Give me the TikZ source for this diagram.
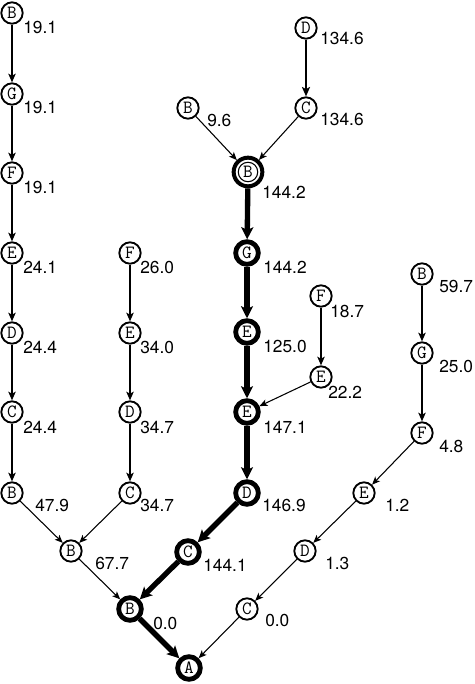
\documentclass[tikz,border=0pt]{standalone}
\usepackage{fontspec}
\setsansfont{TeX Gyre Heros}
\usepackage{tikz}
\usetikzlibrary{arrows.meta}

\begin{document}
\begin{tikzpicture}[x=0.75pt,y=0.75pt,yscale=-1,xscale=1,
  st/.style={circle,draw,line width=1.4pt,minimum size=16pt,inner sep=0pt,font=\ttfamily\fontsize{14}{14}\selectfont},
  stbold/.style={st,line width=3.6pt,minimum size=17pt},
  stroot/.style={st,line width=3pt,minimum size=21.5pt},
  val/.style={anchor=west,inner sep=0pt,font=\sffamily\fontsize{13}{13}\selectfont},
  thin/.style={line width=0.8pt,-{Stealth[length=6pt,width=5pt,inset=1.5pt]}},
  mid/.style={line width=1.3pt,-{Stealth[length=6.5pt,width=5.5pt,inset=1.5pt]}},
  heavy/.style={line width=2pt,-{Stealth[length=7pt,width=6pt,inset=1.5pt]}},
  path/.style={line width=4pt,-{Stealth[length=9pt,width=9pt,inset=2pt]}}]
\useasboundingbox (0,0) rectangle (474,684);

%States, left column
\node[st] (b1) at (12,13) {B};
\node[st] (g1) at (12,94) {G};
\node[st] (f1) at (12,173) {F};
\node[st] (e1) at (12,253) {E};
\node[st] (d1) at (12,333) {D};
\node[st] (c1) at (12,412) {C};
\node[st] (b2) at (12,493) {B};
%States, second column
\node[st] (f2) at (130,253) {F};
\node[st] (e2) at (130,333) {E};
\node[st] (d2) at (130,412) {D};
\node[st] (c2) at (130,493) {C};
\node[st] (b3) at (71,551) {B};
\node[stbold] (b4) at (130,609) {B};
\node[stbold] (a) at (189,668) {A};
%States, best path
\node[stroot] (bm) at (248,172) {B};
\draw[line width=0.8pt] (bm) circle [radius=7.3pt];
\node[stbold] (gm) at (247,253) {G};
\node[stbold] (em1) at (247,332) {E};
\node[stbold] (em2) at (247,412) {E};
\node[stbold] (dm) at (247,493) {D};
\node[stbold] (cm) at (188,552) {C};
%States, top
\node[st] (bt) at (188,108) {B};
\node[st] (ct) at (306,108) {C};
\node[st] (dt) at (306,28) {D};
\node[st] (fs) at (321,296) {F};
\node[st] (es) at (321,377) {E};
%States, right branch
\node[st] (br) at (422,274) {B};
\node[st] (gr) at (422,353) {G};
\node[st] (fr) at (422,433) {F};
\node[st] (er) at (364,493) {E};
\node[st] (dr) at (305,551) {D};
\node[st] (cr) at (247,609) {C};

%Straight Lines
\draw[mid] (b1) -- (g1);
\draw[mid] (g1) -- (f1);
\draw[mid] (f1) -- (e1);
\draw[mid] (e1) -- (d1);
\draw[mid] (d1) -- (c1);
\draw[mid] (c1) -- (b2);
\draw[mid] (f2) -- (e2);
\draw[mid] (e2) -- (d2);
\draw[mid] (d2) -- (c2);
\draw[thin] (b2) -- (b3);
\draw[thin] (c2) -- (b3);
\draw[thin] (b3) -- (b4);
\draw[path] (b4) -- (a);
\draw[heavy] (dt) -- (ct);
\draw[thin] (bt) -- (bm);
\draw[thin] (ct) -- (bm);
\draw[path] (bm) -- (gm);
\draw[path] (gm) -- (em1);
\draw[path] (em1) -- (em2);
\draw[path] (em2) -- (dm);
\draw[path] (dm) -- (cm);
\draw[path] (cm) -- (b4);
\draw[mid] (fs) -- (es);
\draw[thin] (es) -- (em2);
\draw[mid] (br) -- (gr);
\draw[mid] (gr) -- (fr);
\draw[thin] (fr) -- (er);
\draw[thin] (er) -- (dr);
\draw[thin] (dr) -- (cr);
\draw[thin] (cr) -- (a);

% Text Node
\node[val] (vb1) at (23,27) {19.1};
\node[val] (vg1) at (23,107) {19.1};
\node[val] (vf1) at (23,187) {19.1};
\node[val] (ve1) at (23,267) {24.1};
\node[val] (vd1) at (23,347) {24.4};
\node[val] (vc1) at (23,427) {24.4};
\node[val] (vb2) at (35,505) {47.9};
\node[val] (vf2) at (140,267) {26.0};
\node[val] (ve2) at (140,347) {34.0};
\node[val] (vd2) at (140,427) {34.7};
\node[val] (vc2) at (140,505) {34.7};
\node[val] (vb3) at (95,563) {67.7};
\node[val] (vb4) at (153,623) {0.0};
\node[val] (vcm) at (203,565) {144.1};
\node[val] (vdm) at (262,505) {146.9};
\node[val] (vem2) at (263,427) {147.1};
\node[val] (vem1) at (263,346) {125.0};
\node[val] (vgm) at (263,267) {144.2};
\node[val] (vbm) at (262,192) {144.2};
\node[val] (vbt) at (207,120) {9.6};
\node[val] (vct) at (320,119) {134.6};
\node[val] (vdt) at (320,38) {134.6};
\node[val] (vfs) at (330,311) {18.7};
\node[val] (ves) at (328,392) {22.2};
\node[val] (vbr) at (439,286) {59.7};
\node[val] (vgr) at (439,366) {25.0};
\node[val] (vfr) at (439,446) {4.8};
\node[val] (ver) at (385,505) {1.2};
\node[val] (vdr) at (325,563) {1.3};
\node[val] (vcr) at (265,620) {0.0};
\end{tikzpicture}
\end{document}
